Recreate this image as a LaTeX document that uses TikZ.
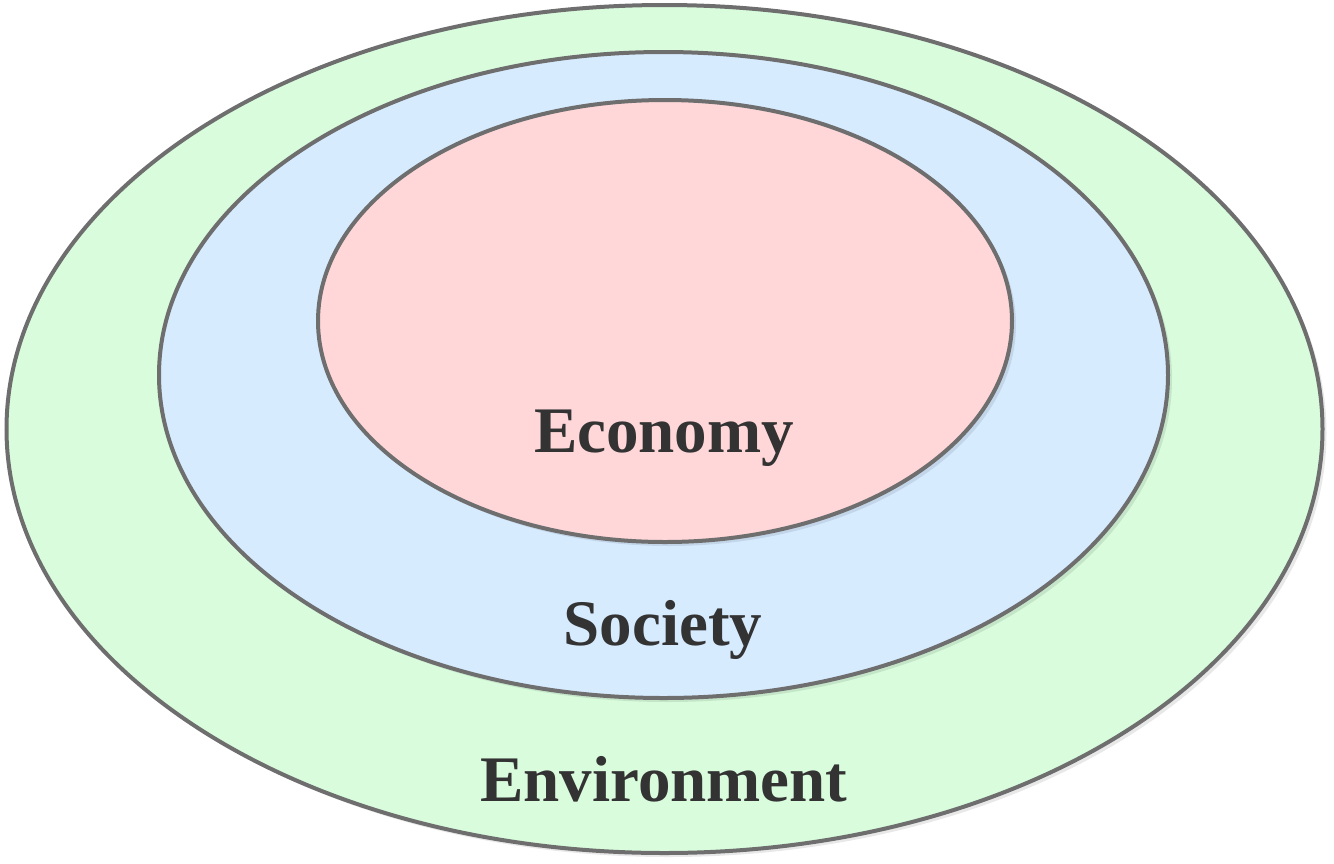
\documentclass[tikz,border=0pt]{standalone}
\usepackage{fontspec}
\setmainfont{Liberation Serif}
\definecolor{envfill}{HTML}{D9FCDD}
\definecolor{socfill}{HTML}{D7EBFF}
\definecolor{ecofill}{HTML}{FFD7D9}
\definecolor{edge}{HTML}{6E6E6E}
\definecolor{txt}{HTML}{333333}
\begin{document}
\begin{tikzpicture}[x=1pt,y=-1pt,
  ring/.style={draw=edge,line width=4pt},
  shade/.style={fill=black,opacity=0.09},
  lbl/.style={text=txt,font=\fontsize{65}{78}\selectfont\bfseries,anchor=base,inner sep=0pt}]
\useasboundingbox (0,0) rectangle (1334,863);
% environment
\fill[shade] (668.5,433) ellipse [x radius=658, y radius=424];
\path[ring,fill=envfill] (664.5,429) ellipse [x radius=658, y radius=424];
% society
\fill[shade] (667.5,379) ellipse [x radius=504.5, y radius=323];
\path[ring,fill=socfill] (663.5,375) ellipse [x radius=504.5, y radius=323];
% economy
\fill[shade] (669,325) ellipse [x radius=347, y radius=221];
\path[ring,fill=ecofill] (665,321) ellipse [x radius=347, y radius=221];
\node[lbl] (eco) at (664,452) {Economy};
\node[lbl] (soc) at (663,645) {Society};
\node[lbl] (env) at (664,801) {Environment};
\end{tikzpicture}
\end{document}
